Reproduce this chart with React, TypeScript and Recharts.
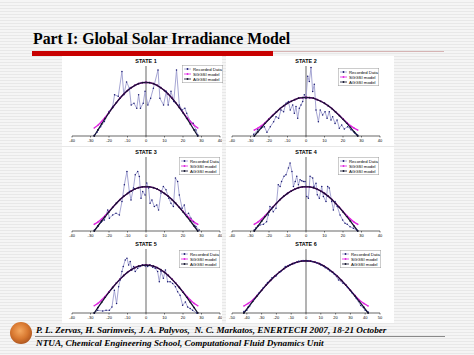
import React from 'react';
import { LineChart, Line, XAxis, YAxis, ReferenceLine } from 'recharts';

// x grid of the model curves (states 1-5) and of state 6
const modelX = [-28, -26, -24, -22, -20, -18, -16, -14, -12, -10, -8, -6, -4, -2, 0, 2, 4, 6, 8, 10, 12, 14, 16, 18, 20, 22, 24, 26, 28];
const modelX6 = [-42, -39, -36, -33, -30, -27, -24, -21, -18, -15, -12, -9, -6, -3, 0, 3, 6, 9, 12, 15, 18, 21, 24, 27, 30, 33, 36, 39, 42];

const xTicks = [-40, -30, -20, -10, 0, 10, 20, 30, 40];
const xTicks6 = [-50, -40, -30, -20, -10, 0, 10, 20, 30, 40, 50];

const yTicks1 = [0, 200, 400, 600, 800, 1000, 1200, 1400, 1600, 1800];
const yTicks2 = [0, 50, 100, 150, 200, 250];
const yTicks3 = [0, 50, 100, 150, 200, 250, 300, 350, 400];
const yTicks4 = [0, 100, 200, 300, 400, 500, 600];
const yTicks5 = [0, 100, 200, 300, 400, 500, 600, 700];
const yTicks6 = [0, 2000, 4000, 6000, 8000, 10000, 12000];

// STATE 1
const s1Agg = [0, 155, 308, 457, 599, 734, 860, 976, 1079, 1169, 1243, 1303, 1346, 1372, 1380, 1372, 1346, 1303, 1243, 1169, 1079, 976, 860, 734, 599, 457, 308, 155, 0];
const s1Sgg = [207, 276, 373, 483, 607, 738, 860, 976, 1079, 1169, 1243, 1303, 1346, 1372, 1380, 1372, 1346, 1303, 1243, 1169, 1079, 976, 860, 738, 607, 483, 373, 276, 207];
const s1RecX = [-28, -26.5, -24.5, -22.5, -20, -18, -17, -15, -13, -12, -10.5, -9, -8, -6.5, -5, -4, -3, -1.5, -0.5, 1, 2.5, 4, 6.5, 7.5, 9.5, 11, 12, 13.5, 15, 16.5, 18, 19.5, 21, 22, 24, 25.5, 27, 28];
const s1RecY = [20, 95, 240, 370, 630, 760, 1060, 1020, 1660, 1060, 1390, 1230, 800, 840, 715, 1060, 715, 845, 1150, 800, 970, 1230, 1700, 970, 800, 1150, 800, 1150, 890, 1700, 800, 670, 715, 585, 370, 330, 155, 25];

// STATE 2
const s2Agg = [0, 15, 31, 46, 60, 73, 86, 98, 108, 117, 124, 130, 135, 137, 138, 137, 135, 130, 124, 117, 108, 98, 86, 73, 60, 46, 31, 15, 0];
const s2Sgg = [21, 28, 37, 48, 61, 74, 86, 98, 108, 117, 124, 130, 135, 137, 138, 137, 135, 130, 124, 117, 108, 98, 86, 74, 61, 48, 37, 28, 21];
const s2RecX = [-28.3, -26.1, -24.3, -22.5, -21.1, -19.3, -17.5, -16.2, -14.8, -13.5, -12.1, -10.8, -9.5, -8.5, -7.2, -6.3, -5.4, -4.5, -3.6, -2.7, -1.8, -0.9, 0, 0.9, 1.8, 2.7, 3.6, 4.5, 5.4, 6.7, 7.7, 9, 10.3, 11.4, 12.6, 13.5, 14.4, 15.7, 16.8, 18, 19.3, 20.7, 22.5, 24.3, 26.5, 27.9];
const s2RecY = [6, 22, 28, 33, 13, 33, 51, 69, 63, 93, 87, 117, 123, 93, 111, 81, 105, 63, 99, 111, 123, 147, 135, 213, 195, 245, 159, 185, 93, 51, 93, 75, 87, 63, 87, 57, 69, 45, 57, 28, 39, 25, 33, 22, 10, 4];

// STATE 3
const s3Agg = [0, 27, 54, 79, 104, 128, 150, 170, 188, 203, 216, 227, 234, 239, 240, 239, 234, 227, 216, 203, 188, 170, 150, 128, 104, 79, 54, 27, 0];
const s3Sgg = [36, 48, 65, 84, 106, 128, 150, 170, 188, 203, 216, 227, 234, 239, 240, 239, 234, 227, 216, 203, 188, 170, 150, 128, 106, 84, 65, 48, 36];
const s3RecX = [-27.9, -26.1, -24.3, -22.5, -20.7, -19.8, -18, -16.2, -14.4, -13, -11.7, -10.3, -9, -8.1, -6.8, -5.8, -4.5, -3.6, -2.7, -1.8, -0.5, 0.4, 1.4, 2.2, 3.2, 4.5, 5.8, 6.8, 8.1, 9.4, 10.8, 12.3, 13.5, 14.8, 15.9, 17.1, 18, 19.5, 20.7, 21.6, 23, 24.3, 25.6, 27, 28.8];
const s3RecY = [5, 24, 47, 60, 114, 69, 87, 96, 87, 159, 250, 322, 213, 168, 232, 304, 322, 295, 177, 213, 195, 259, 232, 150, 168, 132, 141, 114, 205, 241, 223, 177, 150, 132, 286, 268, 195, 123, 141, 87, 96, 69, 51, 24, 5];

// STATE 4
const s4Agg = [0, 40, 80, 119, 156, 192, 224, 255, 282, 305, 324, 340, 351, 358, 360, 358, 351, 340, 324, 305, 282, 255, 224, 192, 156, 119, 80, 40, 0];
const s4Sgg = [54, 72, 97, 126, 158, 193, 224, 255, 282, 305, 324, 340, 351, 358, 360, 358, 351, 340, 324, 305, 282, 255, 224, 193, 158, 126, 97, 72, 54];
const s4RecX = [-28, -27, -24.9, -23, -21.3, -20.4, -19.5, -18.6, -17.7, -16.2, -15, -14, -13.2, -11.9, -10.8, -9.5, -8.6, -7.6, -6.8, -5.8, -5, -4.1, -3.2, -2.3, -1.4, -0.5, 0.4, 1.3, 2.2, 3.6, 4.3, 5.4, 6.1, 7.2, 8.5, 9.4, 10.8, 11.7, 12.6, 13.9, 14.8, 15.7, 16.9, 18.4, 19.8, 21.1, 22.3, 23.8, 25.6, 27.4];
const s4RecY = [8, 27, 49, 54, 76, 130, 198, 185, 157, 185, 375, 361, 402, 443, 456, 510, 551, 483, 361, 402, 443, 375, 415, 407, 402, 402, 280, 266, 443, 429, 361, 388, 293, 266, 361, 280, 239, 361, 348, 239, 171, 239, 198, 130, 90, 62, 54, 35, 22, 8];

// STATE 5
const s5Agg = [0, 59, 117, 174, 228, 279, 327, 371, 411, 445, 473, 496, 512, 522, 525, 522, 512, 496, 473, 445, 411, 371, 327, 279, 228, 174, 117, 59, 0];
const s5Sgg = [79, 105, 142, 184, 231, 281, 327, 371, 411, 445, 473, 496, 512, 522, 525, 522, 512, 496, 473, 445, 411, 371, 327, 281, 231, 184, 142, 105, 79];
const s5RecX = [-27.9, -26.1, -23.4, -21.6, -19.8, -18.4, -17.1, -15.9, -14.8, -14, -13, -12.3, -11.2, -10.3, -9.4, -8.5, -7.6, -6.7, -5.8, -4.5, -3.2, -1.8, -0.4, 0.9, 2.2, 3.6, 5, 6.3, 7.2, 8.1, 9.4, 10.5, 11.7, 13, 14.4, 15.9, 17.1, 18.4, 19.8, 21.3, 22.5, 23.9, 25.2, 27.4];
const s5RecY = [0, 29, 22, 29, 29, 66, 250, 103, 287, 361, 453, 508, 581, 600, 526, 563, 471, 508, 453, 489, 508, 526, 515, 508, 526, 500, 489, 453, 342, 453, 379, 471, 342, 342, 324, 287, 232, 195, 85, 121, 66, 48, 29, 0];

// STATE 6
const s6Agg = [0, 1098, 2181, 3236, 4252, 5215, 6110, 6930, 7662, 8298, 8830, 9250, 9554, 9738, 9800, 9738, 9554, 9250, 8830, 8298, 7662, 6930, 6110, 5215, 4252, 3236, 2181, 1098, 0];
const s6Sgg = [1300, 1800, 2450, 3300, 4252, 5215, 6110, 6930, 7662, 8298, 8830, 9250, 9554, 9738, 9800, 9738, 9554, 9250, 8830, 8298, 7662, 6930, 6110, 5215, 4252, 3300, 2450, 1800, 1300];
const s6RecX = [-42, -40, -38, -35, -32, -29, -26, -23, -20, -17, -14, -11, -8, -5, -2, 1, 4, 7, 10, 13, 16, 19, 22, 25, 28, 31, 34, 37, 40, 42];
const s6RecY = [300, 500, 1300, 2600, 3700, 4700, 5700, 6600, 7000, 7800, 8700, 9000, 9300, 9700, 9850, 9800, 9650, 9400, 9000, 8500, 7900, 7300, 6200, 5600, 4800, 3800, 2700, 1400, 500, 200];

const REC = '#9c9cce';
const REC_DOT = '#1c1c72';
const SGG = '#e024e0';
const AGG = '#12122e';
const SANS = '"Liberation Sans", Arial, sans-serif';
const SERIF = '"Liberation Serif", "Times New Roman", serif';
const PLOT_W = 148;

const pairs = (xs: number[], ys: number[]) => xs.map((x, i) => ({ x, y: ys[i] }));

function LegendBox({ left, top }: { left: number; top: number }) {
  const rows = [
    { name: 'Recorded Data', line: REC, dot: REC_DOT },
    { name: 'SGGSI model', line: SGG, dot: SGG },
    { name: 'AGGSI model', line: AGG, dot: AGG },
  ];
  return (
    <svg style={{ position: 'absolute', left, top }} width={41} height={18}>
      <rect x={0.25} y={0.25} width={40.5} height={17.5} fill="#fff" stroke="#999" strokeWidth={0.5} />
      {rows.map((r, i) => (
        <g key={r.name} transform={`translate(2, ${4 + i * 5})`}>
          <line x1={0} x2={7} y1={0} y2={0} stroke={r.line} strokeWidth={0.8} />
          <circle cx={3.5} cy={0} r={0.9} fill={r.dot} />
          <text x={9} y={1.5} fontSize={4.3} fontFamily={SANS} fill="#000">{r.name}</text>
        </g>
      ))}
    </svg>
  );
}

interface StateProps {
  title: string;
  left: number;
  top: number;
  width: number;
  height: number;
  mTop: number;
  mLeft: number;
  xt: number[];
  yt: number[];
  mx: number[];
  agg: number[];
  sgg: number[];
  rx: number[];
  ry: number[];
  legend: [number, number];
}

function StateChart(p: StateProps) {
  const cx = p.mLeft + PLOT_W / 2;
  const xDom = [p.xt[0], p.xt[p.xt.length - 1]];
  return (
    <div style={{ position: 'absolute', left: p.left, top: p.top, width: p.width, height: p.height, background: '#fff' }}>
      <svg style={{ position: 'absolute', left: cx - 20, top: 0 }} width={40} height={8}>
        <text x={20} y={p.mTop - 3} textAnchor="middle" fontSize={5.4} fontWeight="bold" fontFamily={SANS} fill="#000">{p.title}</text>
      </svg>
      <LineChart
        width={p.width}
        height={p.height}
        margin={{ top: p.mTop, right: p.width - p.mLeft - PLOT_W, left: p.mLeft, bottom: 0 }}
        style={{ overflow: 'visible' }}
      >
        <XAxis
          type="number"
          dataKey="x"
          domain={xDom}
          ticks={p.xt}
          interval={0}
          height={10}
          allowDataOverflow
          tick={{ fontSize: 4, fill: '#000', fontFamily: SANS }}
          tickSize={1.5}
          tickMargin={2}
          axisLine={{ stroke: '#000', strokeWidth: 0.6 }}
          tickLine={{ stroke: '#000', strokeWidth: 0.5 }}
        />
        <YAxis
          type="number"
          domain={[0, p.yt[p.yt.length - 1]]}
          ticks={p.yt}
          interval={0}
          width={0}
          axisLine={false}
          tickLine={false}
          tick={(t: any) => (
            <g>
              <line x1={cx - 1.5} x2={cx} y1={t.y} y2={t.y} stroke="#000" strokeWidth={0.5} />
              <text x={cx - 2.5} y={t.y + 1.4} textAnchor="end" fontSize={4} fontFamily={SANS} fill="#000">
                {t.payload.value}
              </text>
            </g>
          )}
        />
        <ReferenceLine x={0} stroke="#000" strokeWidth={0.6} />
        <Line
          data={pairs(p.rx, p.ry)}
          dataKey="y"
          type="linear"
          stroke={REC}
          strokeWidth={0.9}
          dot={{ r: 0.75, fill: REC_DOT, stroke: 'none' }}
          isAnimationActive={false}
        />
        <Line
          data={pairs(p.mx, p.sgg)}
          dataKey="y"
          type="linear"
          stroke={SGG}
          strokeWidth={1.3}
          dot={{ r: 0.8, fill: SGG, stroke: 'none' }}
          isAnimationActive={false}
        />
        <Line
          data={pairs(p.mx, p.agg)}
          dataKey="y"
          type="linear"
          stroke={AGG}
          strokeWidth={1.3}
          dot={{ r: 0.9, fill: AGG, stroke: 'none' }}
          isAnimationActive={false}
        />
      </LineChart>
      <LegendBox left={p.legend[0]} top={p.legend[1]} />
    </div>
  );
}

export default function App() {
  return (
    <div
      style={{
        position: 'absolute',
        left: 0,
        top: 0,
        width: 474,
        height: 355,
        overflow: 'hidden',
        background: 'repeating-linear-gradient(to bottom, #f5f5f5 0px, #f5f5f5 2px, #e8e8e8 2px, #e8e8e8 3px)',
      }}
    >
      <div style={{ position: 'absolute', left: 33, top: 30, fontFamily: SERIF, fontWeight: 'bold', fontSize: 15.8, lineHeight: '17px', color: '#000', whiteSpace: 'nowrap' }}>
        Part I: Global Solar Irradiance Model
      </div>
      <div style={{ position: 'absolute', left: 32, top: 51, width: 412, height: 1, background: '#d6b4b4' }} />
      <div style={{ position: 'absolute', left: 32, top: 51, width: 241, height: 5, background: '#c80000' }} />

      <StateChart title="STATE 1" left={62} top={56} width={160} height={90} mTop={10} mLeft={10} xt={xTicks} yt={yTicks1}
        mx={modelX} agg={s1Agg} sgg={s1Sgg} rx={s1RecX} ry={s1RecY} legend={[120, 9]} />
      <StateChart title="STATE 2" left={226} top={56} width={168} height={90} mTop={10} mLeft={6} xt={xTicks} yt={yTicks2}
        mx={modelX} agg={s2Agg} sgg={s2Sgg} rx={s2RecX} ry={s2RecY} legend={[112, 12]} />
      <StateChart title="STATE 3" left={62} top={147} width={160} height={94} mTop={10} mLeft={10} xt={xTicks} yt={yTicks3}
        mx={modelX} agg={s3Agg} sgg={s3Sgg} rx={s3RecX} ry={s3RecY} legend={[117, 10]} />
      <StateChart title="STATE 4" left={226} top={147} width={168} height={94} mTop={10} mLeft={6} xt={xTicks} yt={yTicks4}
        mx={modelX} agg={s4Agg} sgg={s4Sgg} rx={s4RecX} ry={s4RecY} legend={[112, 10]} />
      <StateChart title="STATE 5" left={62} top={241} width={160} height={82} mTop={8} mLeft={10} xt={xTicks} yt={yTicks5}
        mx={modelX} agg={s5Agg} sgg={s5Sgg} rx={s5RecX} ry={s5RecY} legend={[117, 9]} />
      <StateChart title="STATE 6" left={226} top={241} width={168} height={82} mTop={8} mLeft={6} xt={xTicks6} yt={yTicks6}
        mx={modelX6} agg={s6Agg} sgg={s6Sgg} rx={s6RecX} ry={s6RecY} legend={[114, 9]} />

      <div style={{ position: 'absolute', left: 10, top: 322, width: 22, height: 22, borderRadius: '50%', background: 'radial-gradient(circle at 45% 40%, #f4a860 0%, #d87830 45%, #8a3a14 100%)' }} />
      <div style={{ position: 'absolute', left: 36, top: 325, fontFamily: SERIF, fontWeight: 'bold', fontStyle: 'italic', fontSize: 9.2, lineHeight: '10px', color: '#000', whiteSpace: 'pre' }}>
        {'P. L. Zervas, H. Sarimveis, J. A. Palyvos,  N. C. Markatos, ENERTECH 2007, 18-21 October'}
      </div>
      <div style={{ position: 'absolute', left: 35, top: 336, width: 410, height: 1, background: '#8a8a8a' }} />
      <div style={{ position: 'absolute', left: 36, top: 338, fontFamily: SERIF, fontWeight: 'bold', fontStyle: 'italic', fontSize: 9.2, lineHeight: '10px', color: '#000', whiteSpace: 'pre' }}>
        {'NTUA, Chemical Engineering School, Computational Fluid Dynamics Unit'}
      </div>
    </div>
  );
}
